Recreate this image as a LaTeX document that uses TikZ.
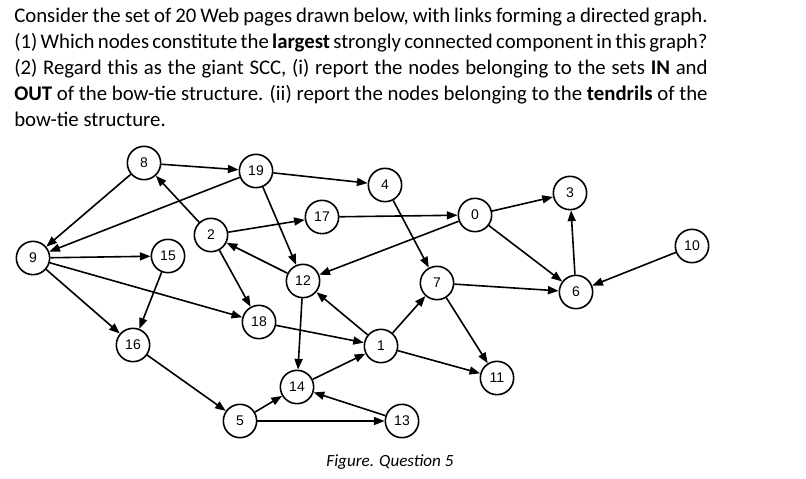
\documentclass[tikz,border=0pt]{standalone}
\usepackage{fontspec}
\setmainfont{Carlito}
\newfontfamily\nodefont{Liberation Sans}
\usetikzlibrary{arrows.meta}
\begin{document}
\begin{tikzpicture}[x=0.75pt,y=-0.75pt,
  v/.style={circle,draw,line width=1.2pt,minimum size=25pt,inner sep=0pt,font=\nodefont\fontsize{10.5}{12}\selectfont},
  e/.style={-{Triangle[length=8pt,width=6pt]},line width=1.2pt}]
\useasboundingbox (0,0) rectangle (806,478);
\node[anchor=north west,text width=520pt,align=justify,inner sep=0pt,font=\fontsize{15.6}{19.5}\selectfont] (t) at (14,8)
{Consider the set of 20 Web pages drawn below, with links forming a directed graph.\\ (1) Which nodes constitute the \textbf{largest} strongly connected component in this graph?\\ (2) Regard this as the giant SCC, (i) report the nodes belonging to the sets \textbf{IN} and\linebreak \textbf{OUT} of the bow-tie structure. (ii) report the nodes belonging to the \textbf{tendrils} of the\linebreak bow-tie structure.};
\node[v] (n8) at (144,163) {8};
\node[v] (n19) at (256,171) {19};
\node[v] (n4) at (385,185) {4};
\node[v] (n17) at (322,217) {17};
\node[v] (n2) at (211,235) {2};
\node[v] (n0) at (475,215) {0};
\node[v] (n3) at (570,193) {3};
\node[v] (n10) at (692,246) {10};
\node[v] (n9) at (33,258) {9};
\node[v] (n15) at (168,256) {15};
\node[v] (n12) at (303,281) {12};
\node[v] (n7) at (437,283) {7};
\node[v] (n6) at (576,292) {6};
\node[v] (n18) at (259,322) {18};
\node[v] (n1) at (381,346) {1};
\node[v] (n16) at (133,345) {16};
\node[v] (n11) at (497,378) {11};
\node[v] (n14) at (297,387) {14};
\node[v] (n5) at (240,421) {5};
\node[v] (n13) at (402,421) {13};
\node[font=\itshape\fontsize{12.8}{15}\selectfont] (cap) at (390,462) {Figure. Question 5};
\foreach \a/\b in {n8/n19,n8/n9,n19/n9,n2/n8,n19/n4,n19/n12,n2/n17,n2/n18,n17/n0,n4/n7,n0/n3,n0/n6,n0/n12,n12/n2,n6/n3,n10/n6,n9/n15,n9/n16,n9/n18,n15/n16,n7/n6,n7/n11,n1/n7,n1/n12,n1/n11,n18/n1,n12/n14,n14/n1,n16/n5,n5/n14,n5/n13,n13/n14}
  \draw[e] (\a) -- (\b);
\end{tikzpicture}
\end{document}
